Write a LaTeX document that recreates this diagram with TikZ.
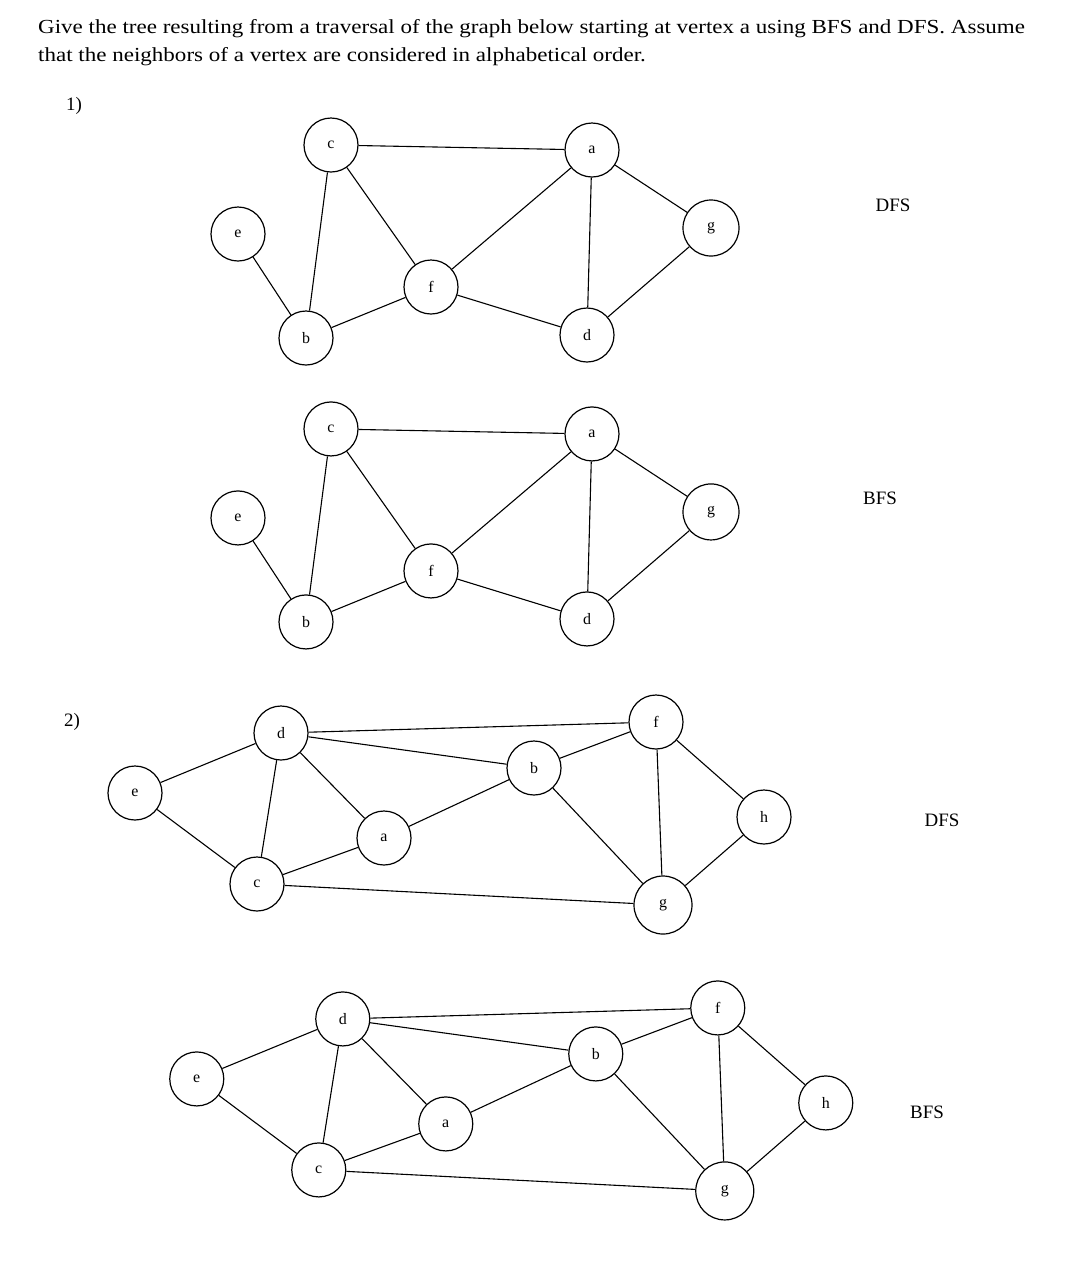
\documentclass[tikz,border=0pt]{standalone}
\usepackage{fontspec}
\usepackage{graphicx}
\setmainfont{Liberation Serif}
\begin{document}
\begin{tikzpicture}[x=1bp,y=-1bp,
  v/.style={circle,draw,line width=1.2bp,minimum size=54bp,inner sep=0pt,font=\fontsize{16}{16}\selectfont,fill=white},
  e/.style={line width=1.1bp},
  hd/.style={font=\fontsize{20}{20}\selectfont,anchor=west,inner sep=0pt},
  lab/.style={font=\fontsize{19}{19}\selectfont}]
\useasboundingbox (0,0) rectangle (1078,1284);
\node[hd] (h1) at (38,29) {\scalebox{1.155}[1]{Give the tree resulting from a traversal of the graph below starting at vertex a using BFS and DFS. Assume}};
\node[hd] (h2) at (38,57) {\scalebox{1.155}[1]{that the neighbors of a vertex are considered in alphabetical order.}};
\node[lab] (n1) at (74,106) {1)};
\node[lab] (n2) at (72,722) {2)};
\node[lab] (l1) at (893,205) {DFS};
\node[lab] (l2) at (880,498) {BFS};
\node[lab] (l3) at (942,820) {DFS};
\node[lab] (l4) at (927,1112) {BFS};
% graph 1
\foreach \s/\dy in {A/0,B/285}{
\begin{scope}[yshift=-\dy]
\node[v] (\s c) at (331,145) {c};
\node[v] (\s a) at (592,150) {a};
\node[v] (\s e) at (238,234) {e};
\node[v,minimum size=56bp] (\s g) at (711,228) {g};
\node[v] (\s f) at (431,287) {f};
\node[v] (\s b) at (306,338) {b};
\node[v] (\s d) at (587,335) {d};
\end{scope}
\draw[e] (\s c)--(\s a) (\s a)--(\s g) (\s g)--(\s d) (\s a)--(\s d) (\s a)--(\s f) (\s c)--(\s f) (\s c)--(\s b) (\s e)--(\s b) (\s b)--(\s f) (\s f)--(\s d);
}
% graph 2
\foreach \s/\dx/\dy in {C/0/0,D/62/287}{
\begin{scope}[xshift=\dx,yshift=-\dy]
\node[v] (\s d) at (281,733) {d};
\node[v] (\s f) at (656,722) {f};
\node[v] (\s b) at (534,768) {b};
\node[v] (\s e) at (135,793) {e};
\node[v] (\s h) at (764,817) {h};
\node[v] (\s a) at (384,838) {a};
\node[v] (\s c) at (257,884) {c};
\node[v,minimum size=58bp] (\s g) at (663,905) {g};
\end{scope}
\draw[e] (\s d)--(\s f) (\s d)--(\s b) (\s d)--(\s a) (\s d)--(\s e) (\s d)--(\s c) (\s e)--(\s c) (\s c)--(\s a) (\s c)--(\s g) (\s a)--(\s b) (\s b)--(\s f) (\s b)--(\s g) (\s f)--(\s g) (\s f)--(\s h) (\s h)--(\s g);
}
\end{tikzpicture}
\end{document}
